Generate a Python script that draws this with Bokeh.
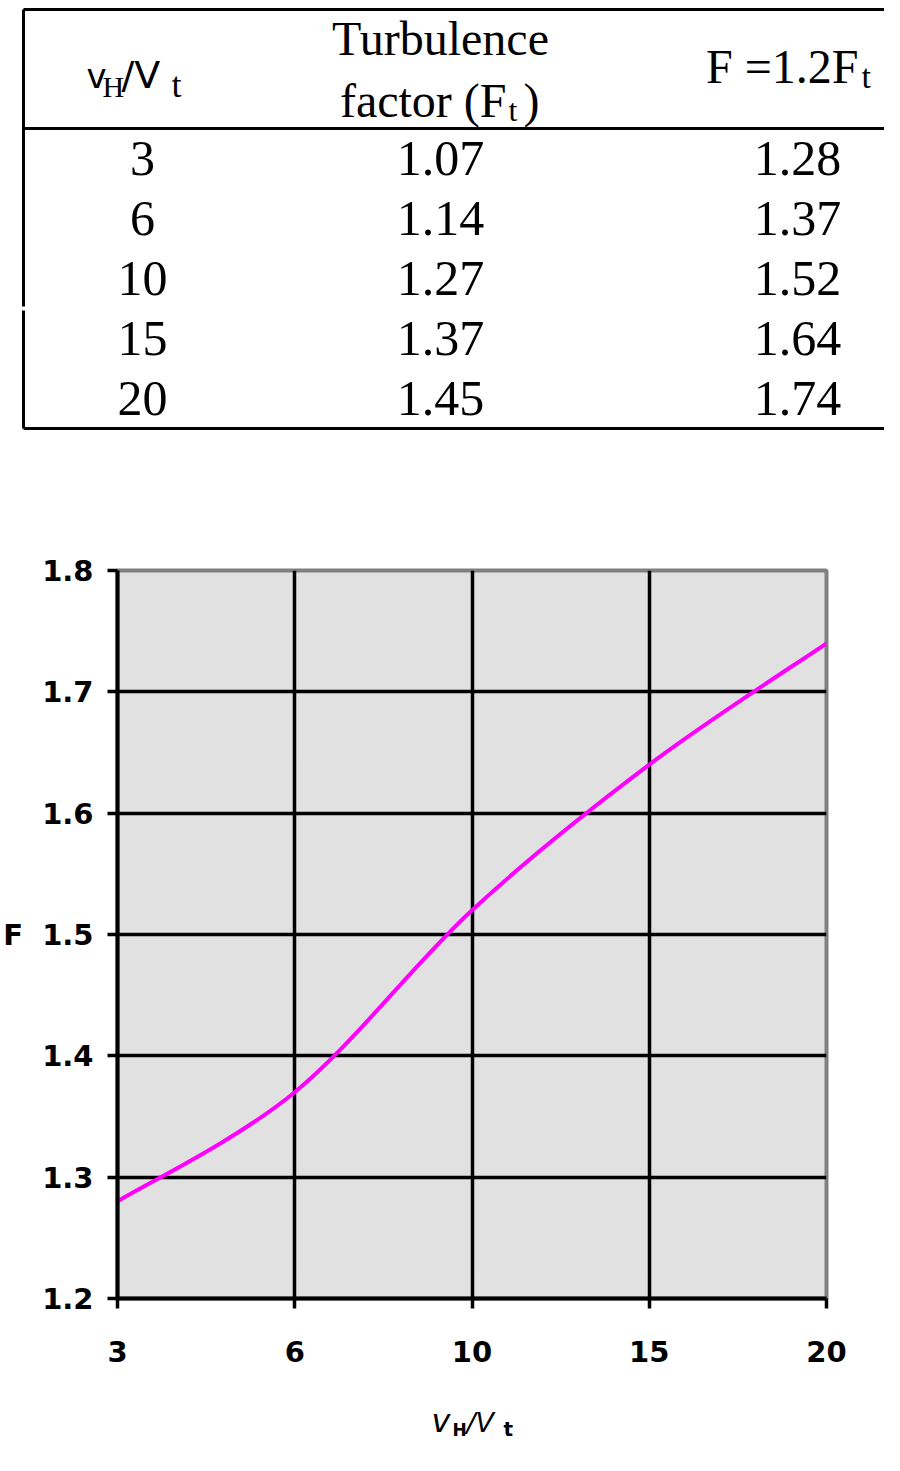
import numpy as np
from bokeh.plotting import figure
from bokeh.layouts import column
from bokeh.models import Range1d, FixedTicker
from bokeh.core.properties import value
from bokeh.embed import file_html
from bokeh.resources import INLINE

# ---------------- data ----------------
ratio_labels = ["3", "6", "10", "15", "20"]
turbulence_factor = [1.07, 1.14, 1.27, 1.37, 1.45]
f_values = [1.28, 1.37, 1.52, 1.64, 1.74]
y_ticks = [1.2, 1.3, 1.4, 1.5, 1.6, 1.7, 1.8]

W = 884
SERIF = "Liberation Serif"
SANS = "DejaVu Sans"
K = 0.36  # baseline correction (fraction of font size)

# ---------------- table (pixel-like coordinates) ----------------
TH = 548
t = figure(width=W, height=TH, x_range=Range1d(0, W), y_range=Range1d(TH, 0),
           x_axis_type=None, y_axis_type=None, title=None, frame_align=False,
           output_backend="svg", toolbar_location=None, min_border=0)
t.grid.visible = False
t.outline_line_color = None

row_top, row_h = 128, 60
top_line = 9
n = len(ratio_labels)
bottom_line = row_top + n * row_h
t.segment(x0=[23, 23, 23], x1=[W] * 3, y0=[top_line, row_top, bottom_line],
          y1=[top_line, row_top, bottom_line], line_color="black", line_width=3)
t.segment(x0=[23, 23], x1=[23, 23], y0=[top_line, 310], y1=[306, bottom_line],
          line_color="black", line_width=3)

body_size = 50
base = [row_top + (i + 0.5) * row_h + 18 - K * body_size for i in range(n)]
body = dict(text_align="center", text_baseline="alphabetic",
            text_font=value(SERIF), text_font_size="%dpx" % body_size, text_color="black")
t.text(x=[142] * n, y=base, text=ratio_labels, **body)
t.text(x=[440] * n, y=base, text=["%.2f" % v for v in turbulence_factor], **body)
t.text(x=[797] * n, y=base, text=["%.2f" % v for v in f_values], **body)

def piece(fig, x, y, s, font, size, style="normal", align="left"):
    fig.text(x=[x], y=[y - K * size], text=[s], text_align=align, text_baseline="alphabetic",
             text_font=value(font), text_font_size="%dpx" % size, text_font_style=style,
             text_color="black")

# header 1: vH/Vt
piece(t, 86, 88, "v", SANS, 34)
piece(t, 102, 97, "H", SERIF, 30)
piece(t, 121, 88, "/V", SANS, 38)
piece(t, 171, 97, "t", SERIF, 36)
# header 2
piece(t, 440, 55, "Turbulence", SERIF, 48, align="center")
piece(t, 506, 117, "factor (F", SERIF, 48, align="right")
piece(t, 508, 121, "t", SERIF, 32)
piece(t, 523, 117, ")", SERIF, 48)
# header 3
piece(t, 858, 83, "F =1.2F", SERIF, 48, align="right")
piece(t, 861, 88, "t", SERIF, 34)

# ---------------- chart ----------------
CH = 837
x_idx = list(range(n))
p = figure(width=W, height=CH, x_range=Range1d(0, n - 1), y_range=Range1d(y_ticks[0], y_ticks[-1]),
           output_backend="svg", toolbar_location=None, title=None, frame_align=False,
           min_border_left=116, min_border_right=58, min_border_top=22, min_border_bottom=87,
           background_fill_color="#e1e1e1", border_fill_color="white",
           outline_line_color="#808080", outline_line_width=4)

p.xgrid.ticker = FixedTicker(ticks=x_idx[1:-1])
p.ygrid.ticker = FixedTicker(ticks=y_ticks[1:-1])
p.grid.grid_line_color = "black"
p.grid.grid_line_width = 3.5

for ax in (p.xaxis, p.yaxis):
    ax.axis_line_color = "black"
    ax.axis_line_width = 4
    ax.major_tick_line_color = "black"
    ax.major_tick_line_width = 3.5
    ax.major_tick_out = 10
    ax.major_tick_in = 0
    ax.minor_tick_line_color = None
    ax.major_label_text_font = SANS
    ax.major_label_text_font_style = "bold"
    ax.major_label_text_font_size = "29px"
    ax.major_label_text_color = "black"

p.xaxis.ticker = FixedTicker(ticks=x_idx)
p.xaxis.major_label_overrides = {i: lab for i, lab in enumerate(ratio_labels)}
p.xaxis.major_label_standoff = 32

p.yaxis.ticker = FixedTicker(ticks=y_ticks)
p.yaxis.major_label_overrides = {v: "%.1f" % v for v in y_ticks}
p.yaxis.major_label_standoff = 14
p.yaxis.axis_label = "F"
p.yaxis.axis_label_orientation = "horizontal"
p.yaxis.axis_label_text_font = SANS
p.yaxis.axis_label_text_font_style = "bold"
p.yaxis.axis_label_text_font_size = "29px"
p.yaxis.axis_label_text_color = "black"
p.yaxis.axis_label_standoff = 16

# smoothed curve (Catmull-Rom style Bezier through the data points)
X = np.array(x_idx, dtype=float)
Y = np.array(f_values, dtype=float)
x0, y0, x1, y1, cx0, cy0, cx1, cy1 = ([] for _ in range(8))
for i in range(n - 1):
    im1 = max(i - 1, 0)
    ip2 = min(i + 2, n - 1)
    x0.append(X[i]); y0.append(Y[i]); x1.append(X[i + 1]); y1.append(Y[i + 1])
    cx0.append(X[i] + (X[i + 1] - X[im1]) / 6); cy0.append(Y[i] + (Y[i + 1] - Y[im1]) / 6)
    cx1.append(X[i + 1] - (X[ip2] - X[i]) / 6); cy1.append(Y[i + 1] - (Y[ip2] - Y[i]) / 6)
p.bezier(x0=x0, y0=y0, x1=x1, y1=y1, cx0=cx0, cy0=cy0, cx1=cx1, cy1=cy1,
         line_color="#ff00ff", line_width=4)

# ---------------- x-axis title with subscripts ----------------
LH = 78
top_y = TH + CH
lab = figure(width=W, height=LH, x_range=Range1d(0, W), y_range=Range1d(top_y + LH, top_y),
             x_axis_type=None, y_axis_type=None, title=None, frame_align=False,
             output_backend="svg", toolbar_location=None, min_border=0)
lab.grid.visible = False
lab.outline_line_color = None
piece(lab, 431, 1432, "v", SANS, 32, style="italic")
piece(lab, 452, 1436, "H", SANS, 17, style="bold")
piece(lab, 466, 1432, "/V", SANS, 27, style="italic")
piece(lab, 503, 1436, "t", SANS, 20, style="bold")

layout = column(t, p, lab, spacing=0)
open("out.html", "w").write(file_html(layout, INLINE))
